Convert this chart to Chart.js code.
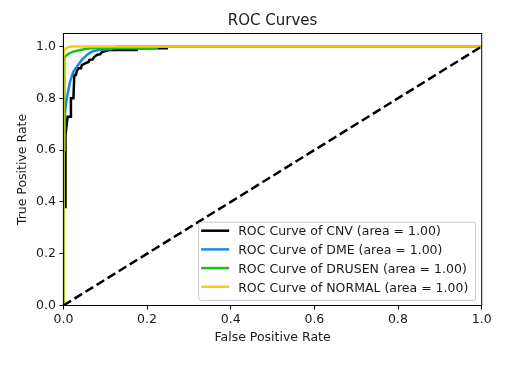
<!DOCTYPE html>
<html>
<head>
<meta charset="utf-8">
<title>ROC Curves</title>
<script src="https://cdn.jsdelivr.net/npm/chart.js@4.4.1/dist/chart.umd.min.js"></script>
<style>
    html, body { margin: 0; padding: 0; background: #ffffff; }
    #wrap { width: 516px; height: 372px; }
</style>
</head>
<body>
<div id="wrap"><canvas id="rocChart" width="516" height="372"></canvas></div>
<script>
const classNames = ["CNV", "DME", "DRUSEN", "NORMAL"];
const lineColors = ["#000000", "#1e88e5", "#14c414", "#ffc90e"];
const areas = [1.0, 1.0, 1.0, 1.0];

const cnvFpr = [0, 0, 0.005, 0.005, 0.010, 0.018, 0.018, 0.024, 0.026, 0.030, 0.032, 0.036, 0.042, 0.044, 0.052, 0.060, 0.062, 0.070, 0.074, 0.080, 0.088, 0.092, 0.100, 0.110, 0.175, 0.175, 0.247, 0.247, 1];
const cnvTpr = [0, 0.38, 0.38, 0.658, 0.729, 0.729, 0.800, 0.800, 0.890, 0.890, 0.905, 0.916, 0.916, 0.928, 0.935, 0.940, 0.948, 0.950, 0.960, 0.967, 0.970, 0.978, 0.982, 0.986, 0.986, 0.993, 0.993, 1, 1];

const dmeFpr = [0, 0, 0.003, 0.004, 0.008, 0.016, 0.024, 0.032, 0.044, 0.056, 0.068, 0.083, 0.115, 0.130, 1];
const dmeTpr = [0, 0.60, 0.60, 0.748, 0.800, 0.864, 0.903, 0.922, 0.948, 0.967, 0.980, 0.986, 0.990, 1, 1];

const drusenFpr = [0, 0, 0.002, 0.002, 0.004, 0.012, 0.024, 0.040, 0.064, 0.223, 0.223, 1];
const drusenTpr = [0, 0.65, 0.65, 0.955, 0.961, 0.972, 0.980, 0.986, 0.993, 0.993, 1, 1];

const normalFpr = [0, 0, 0.002, 0.006, 0.012, 0.020, 1];
const normalTpr = [0, 0.96, 0.985, 0.993, 0.997, 1, 1];

const chanceFpr = [0, 1];
const chanceTpr = [0, 1];

const xTicks = [0, 0.2, 0.4, 0.6, 0.8, 1.0];
const yTicks = [0, 0.2, 0.4, 0.6, 0.8, 1.0];

document.addEventListener("DOMContentLoaded", function () {
    const canvas = document.getElementById("rocChart");
    const fontFamily = "'DejaVu Sans', Verdana, sans-serif";
    const textColor = "#1a1a1a";

    Chart.defaults.font.family = fontFamily;
    Chart.defaults.font.size = 12.5;
    Chart.defaults.color = textColor;

    const toPoints = (xs, ys) => xs.map((x, i) => ({ x: x, y: ys[i] }));

    const curves = [
        [cnvFpr, cnvTpr],
        [dmeFpr, dmeTpr],
        [drusenFpr, drusenTpr],
        [normalFpr, normalTpr],
    ];

    const datasets = curves.map((pair, i) => ({
        label: `ROC Curve of ${classNames[i]} (area = ${areas[i].toFixed(2)})`,
        data: toPoints(pair[0], pair[1]),
        borderColor: lineColors[i],
        backgroundColor: lineColors[i],
        borderWidth: 2.5,
        pointRadius: 0,
        tension: 0,
        fill: false,
        order: 4 - i,
    }));

    datasets.push({
        label: "chance",
        data: toPoints(chanceFpr, chanceTpr),
        borderColor: "#000000",
        borderWidth: 2.5,
        borderDash: [9, 4],
        pointRadius: 0,
        fill: false,
        order: 0,
        inLegend: false,
    });

    // matplotlib style frame on all four sides
    const framePlugin = {
        id: "frame",
        afterDatasetsDraw(chart) {
            const { ctx, chartArea } = chart;
            ctx.save();
            ctx.strokeStyle = "#000000";
            ctx.lineWidth = 1;
            ctx.strokeRect(chartArea.left, chartArea.top, chartArea.right - chartArea.left, chartArea.bottom - chartArea.top);
            ctx.restore();
        },
    };

    // legend box in the lower right corner of the axes
    const boxLegend = {
        id: "boxLegend",
        afterDraw(chart) {
            const { ctx, chartArea } = chart;
            const items = chart.data.datasets.filter((d) => d.inLegend !== false);
            ctx.save();
            ctx.font = `12.5px ${fontFamily}`;
            const textW = Math.max(...items.map((d) => ctx.measureText(d.label).width));
            const right = chartArea.right - 6.7;
            const bottom = chartArea.bottom - 5.5;
            const left = right - 6.7 - textW - 40;
            const rowH = 18.7;
            const top = bottom - 78.3;

            ctx.beginPath();
            ctx.roundRect(left + 0.5, top + 0.5, right - left, bottom - top, 2.5);
            ctx.fillStyle = "rgba(255,255,255,0.8)";
            ctx.fill();
            ctx.strokeStyle = "#cccccc";
            ctx.lineWidth = 1;
            ctx.stroke();

            items.forEach((d, i) => {
                const y = top + 9 + i * rowH;
                ctx.beginPath();
                ctx.moveTo(left + 3, y);
                ctx.lineTo(left + 31, y);
                ctx.strokeStyle = d.borderColor;
                ctx.lineWidth = 2.5;
                ctx.stroke();
                ctx.fillStyle = textColor;
                ctx.textBaseline = "middle";
                ctx.textAlign = "left";
                ctx.fillText(d.label, left + 40, y + 1.5);
            });
            ctx.restore();
        },
    };

    new Chart(canvas.getContext("2d"), {
        type: "line",
        data: { datasets: datasets },
        options: {
            responsive: false,
            animation: false,
            layout: { padding: { left: 0, right: 34.3, top: 0, bottom: 0 } },
            plugins: {
                legend: { display: false },
                tooltip: { enabled: false },
                title: {
                    display: true,
                    text: "ROC Curves",
                    fullSize: false,
                    color: textColor,
                    font: { size: 15, weight: "normal" },
                    padding: { top: 12, bottom: 3.5 },
                },
            },
            scales: {
                x: {
                    type: "linear",
                    min: 0,
                    max: 1,
                    afterBuildTicks: (scale) => {
                        scale.ticks = xTicks.map((v) => ({ value: v }));
                    },
                    afterFit: (scale) => {
                        scale.height = 66.5;
                    },
                    ticks: {
                        color: textColor,
                        padding: 3,
                        maxRotation: 0,
                        callback: (v) => Number(v).toFixed(1),
                    },
                    grid: {
                        display: true,
                        drawOnChartArea: false,
                        drawTicks: true,
                        tickLength: 4,
                        color: "#000000",
                    },
                    border: { display: true, color: "#000000", width: 1 },
                    title: {
                        display: true,
                        text: "False Positive Rate",
                        color: textColor,
                        font: { size: 12.5 },
                        padding: { top: 0, bottom: 26.5 },
                    },
                },
                y: {
                    type: "linear",
                    min: 0,
                    max: 1.05,
                    afterBuildTicks: (scale) => {
                        scale.ticks = yTicks.map((v) => ({ value: v }));
                    },
                    afterFit: (scale) => {
                        scale.width = 63.4;
                    },
                    ticks: {
                        color: textColor,
                        padding: 3.5,
                        callback: (v) => Number(v).toFixed(1),
                    },
                    grid: {
                        display: true,
                        drawOnChartArea: false,
                        drawTicks: true,
                        tickLength: 4,
                        color: "#000000",
                    },
                    border: { display: true, color: "#000000", width: 1 },
                    title: {
                        display: true,
                        text: "True Positive Rate",
                        color: textColor,
                        font: { size: 12.5 },
                        padding: { top: 15.5, bottom: 0 },
                    },
                },
            },
        },
        plugins: [framePlugin, boxLegend],
    });
});
</script>
</body>
</html>
